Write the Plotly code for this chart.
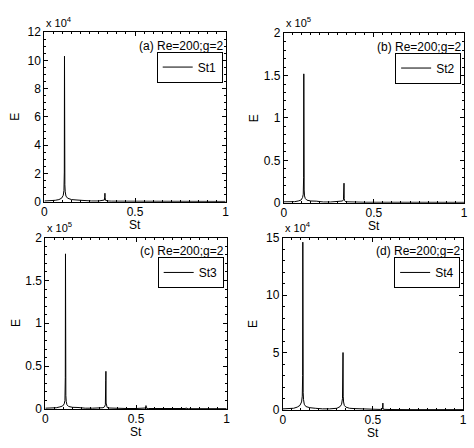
import plotly.graph_objects as go

# Shared Strouhal-number grid (dense around spectral peaks)
st = [0, 0.02, 0.04, 0.06, 0.08, 0.095, 0.104, 0.108, 0.110, 0.111, 0.112, 0.113,
      0.115, 0.119, 0.128, 0.15, 0.18, 0.2, 0.22, 0.26, 0.3, 0.318, 0.326, 0.331,
      0.333, 0.334, 0.335, 0.337, 0.341, 0.35, 0.37, 0.4, 0.45, 0.5, 0.54, 0.553,
      0.555, 0.556, 0.558, 0.57, 0.6, 0.7, 0.76, 0.775, 0.777, 0.779, 0.79, 0.85,
      0.9, 1.0]

# Panel (a) St1, in units of 1e4
e_st1 = [0.05, 0.05, 0.06, 0.1, 0.15, 0.25, 0.45, 0.8, 2.1, 10.3, 6.0, 1.2,
         0.7, 0.4, 0.25, 0.15, 0.12, 0.1, 0.06, 0.05, 0.05, 0.06, 0.08, 0.12,
         0.35, 0.6, 0.3, 0.1, 0.07, 0.05, 0.04, 0.04, 0.03, 0.03, 0.03, 0.03,
         0.04, 0.03, 0.03, 0.03, 0.03, 0.02, 0.02, 0.02, 0.02, 0.02, 0.02, 0.02,
         0.02, 0.02]
# Panel (b) St2, in units of 1e5
e_st2 = [0.01, 0.01, 0.01, 0.012, 0.02, 0.03, 0.06, 0.1, 0.3, 1.52, 0.9, 0.15,
         0.08, 0.05, 0.03, 0.02, 0.018, 0.012, 0.008, 0.008, 0.01, 0.012, 0.02, 0.035,
         0.17, 0.23, 0.05, 0.025, 0.015, 0.01, 0.008, 0.006, 0.005, 0.005, 0.005, 0.005,
         0.008, 0.005, 0.005, 0.005, 0.004, 0.004, 0.004, 0.004, 0.004, 0.004, 0.004, 0.004,
         0.004, 0.004]
# Panel (c) St3, in units of 1e5
e_st3 = [0.01, 0.01, 0.012, 0.015, 0.025, 0.035, 0.06, 0.1, 0.37, 1.81, 1.06, 0.16,
         0.09, 0.05, 0.03, 0.02, 0.018, 0.012, 0.01, 0.01, 0.012, 0.015, 0.025, 0.05,
         0.33, 0.44, 0.07, 0.03, 0.018, 0.012, 0.01, 0.008, 0.006, 0.006, 0.007, 0.012,
         0.04, 0.015, 0.008, 0.006, 0.005, 0.004, 0.004, 0.006, 0.015, 0.006, 0.004, 0.004,
         0.004, 0.004]
# Panel (d) St4, in units of 1e4
e_st4 = [0.1, 0.1, 0.12, 0.15, 0.25, 0.4, 0.7, 1.2, 3.0, 14.6, 8.6, 1.5,
         0.9, 0.5, 0.3, 0.2, 0.15, 0.12, 0.1, 0.1, 0.15, 0.3, 0.5, 1.0,
         3.8, 5.0, 1.2, 0.7, 0.4, 0.25, 0.15, 0.12, 0.08, 0.05, 0.05, 0.1,
         0.6, 0.2, 0.06, 0.05, 0.04, 0.03, 0.03, 0.03, 0.05, 0.03, 0.03, 0.03,
         0.03, 0.03]

series = [e_st1, e_st2, e_st3, e_st4]
names = ["St1", "St2", "St3", "St4"]
labels = ["(a) Re=200;g=2", "(b) Re=200;g=2", "(c) Re=200;g=2", "(d) Re=200;g=2"]
exponents = ["4", "5", "5", "4"]
y_max = [12, 2, 2, 15]
y_dtick = [2, 0.5, 0.5, 5]
y_minor = [0.5, 0.1, 0.1, 1]

W, H = 474, 448
FONT = "Arial, Liberation Sans, sans-serif"

# plot-area boxes in pixels: (left, right, top, bottom)
boxes = [(42, 226, 26, 201), (285, 468, 27, 202), (43, 227, 238, 415), (284, 467, 238, 416)]


def px(x):
    return x / W


def py(y):
    return 1 - y / H


fig = go.Figure()
layout = dict(
    width=W, height=H, margin=dict(l=0, r=0, t=0, b=0),
    paper_bgcolor="white", plot_bgcolor="white",
    font=dict(family=FONT, size=12, color="black"),
    showlegend=True,
)
annotations = []
for i in range(4):
    sfx = "" if i == 0 else str(i + 1)
    l, r, t, b = boxes[i]
    leg = "legend" if i == 0 else "legend" + str(i + 1)
    fig.add_trace(go.Scatter(
        x=st, y=series[i], mode="lines", name=names[i],
        line=dict(color="black", width=1),
        xaxis="x" + sfx, yaxis="y" + sfx, legend=leg,
    ))
    axcommon = dict(
        showline=True, linecolor="black", linewidth=1, mirror="ticks",
        ticks="inside", ticklen=4, tickcolor="black", showgrid=False,
        zeroline=False, tickfont=dict(family=FONT, size=12, color="black"),
    )
    layout["xaxis" + sfx] = dict(
        axcommon, domain=[px(l), px(r)], range=[0, 1], tickvals=[0, 0.5, 1],
        ticktext=["0", "0.5", "1"], anchor="y" + sfx, ticklabelstandoff=-1,
        minor=dict(ticks="inside", ticklen=2, dtick=0.05, tickcolor="black", showgrid=False),
    )
    layout["yaxis" + sfx] = dict(
        axcommon, domain=[py(b), py(t)], range=[0, y_max[i]], dtick=y_dtick[i],
        anchor="x" + sfx,
        minor=dict(ticks="inside", ticklen=2, dtick=y_minor[i], tickcolor="black", showgrid=False),
    )
    layout[leg] = dict(
        x=px(r - 3), y=py(t + 20), xanchor="right", yanchor="top",
        bordercolor="black", borderwidth=1, bgcolor="white",
        font=dict(family=FONT, size=12, color="black"),
        tracegroupgap=0, itemwidth=30,
    )
    annotations.append(dict(
        x=px(r - 1), y=py(t + 14), xref="paper", yref="paper", text=labels[i],
        showarrow=False, xanchor="right", yanchor="middle",
        font=dict(family=FONT, size=12, color="black"),
    ))
    annotations.append(dict(
        x=px(l), y=py(t - 11), xref="paper", yref="paper",
        text="x 10<sup>" + exponents[i] + "</sup>",
        showarrow=False, xanchor="left", yanchor="middle",
        font=dict(family=FONT, size=11, color="black"),
    ))
    annotations.append(dict(
        x=px((l + r) / 2), y=py(b + 24), xref="paper", yref="paper", text="St",
        showarrow=False, xanchor="center", yanchor="middle",
        font=dict(family=FONT, size=12, color="black"),
    ))
    annotations.append(dict(
        x=px(l - 30), y=py((t + b) / 2), xref="paper", yref="paper", text="E",
        showarrow=False, xanchor="center", yanchor="middle", textangle=-90,
        font=dict(family=FONT, size=12, color="black"),
    ))

layout["annotations"] = annotations
fig.update_layout(**layout)
fig.write_html(
    "out.html",
    config={"displayModeBar": False},
    post_script="document.body.style.margin='0';document.body.style.overflow='hidden';",
)
